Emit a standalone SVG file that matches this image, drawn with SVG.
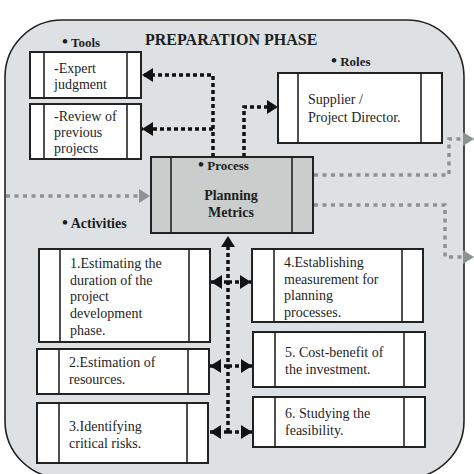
<svg xmlns="http://www.w3.org/2000/svg" width="474" height="474" viewBox="0 0 474 474">
<defs>
<style>
.t{font-family:"Liberation Serif","Times New Roman",serif;font-size:14px;fill:#1e1e1e}
.b{font-family:"Liberation Serif","Times New Roman",serif;font-weight:bold;fill:#1e1e1e}
.bl{font-size:17px}
.box{fill:#ffffff;stroke:#222;stroke-width:2}
.pbox{fill:#c9cdcc;stroke:#222;stroke-width:2}
.div{stroke:#222;stroke-width:1.6}
.blk{fill:none;stroke:#111;stroke-width:3.5;stroke-dasharray:4 3}
.gry{fill:none;stroke:#8b9392;stroke-width:3.5;stroke-dasharray:4 4.5}
</style>
<marker id="ab" markerUnits="userSpaceOnUse" markerWidth="12" markerHeight="14" refX="11" refY="7" orient="auto">
<path d="M0,0 L11,7 L0,14 Z" fill="#111"/>
</marker>
<marker id="ag" markerUnits="userSpaceOnUse" markerWidth="12" markerHeight="14" refX="11" refY="7" orient="auto">
<path d="M0,0 L11,7 L0,14 Z" fill="#8b9392"/>
</marker>
</defs>
<rect x="0" y="0" width="474" height="474" fill="#ffffff"/>
<rect x="5" y="20" width="459" height="458" rx="57" ry="57" fill="#dde1e4" stroke="#222" stroke-width="1.6"/>
<text class="b" x="145" y="45" font-size="16">PREPARATION PHASE</text>

<g id="connectors">
<path class="blk" d="M213,157 L213,75 L142,75" marker-end="url(#ab)"/>
<path class="blk" d="M213,129 L142,129" marker-end="url(#ab)"/>
<path class="blk" d="M244,157 L244,107 L278,107" marker-end="url(#ab)"/>
<path class="blk" d="M228,432 L228,236" marker-end="url(#ab)"/>
<path class="blk" d="M228,282 L211,282" marker-end="url(#ab)"/>
<path class="blk" d="M228,282 L251,282" marker-end="url(#ab)"/>
<path class="blk" d="M228,366 L210,366" marker-end="url(#ab)"/>
<path class="blk" d="M228,366 L252,366" marker-end="url(#ab)"/>
<path class="blk" d="M228,432 L210,432" marker-end="url(#ab)"/>
<path class="blk" d="M228,432 L252,432" marker-end="url(#ab)"/>
<path class="gry" d="M6,196 L150,196" marker-end="url(#ag)"/>
<path class="gry" d="M314,175 L449,175 L449,139 L474,139" marker-end="url(#ag)"/>
<path class="gry" d="M314,205 L445,205 L445,257 L474,257" marker-end="url(#ag)"/>
</g>

<g id="tools">
<text class="b" x="62" y="47" font-size="13"><tspan class="bl">•</tspan> Tools</text>
</g>
<g id="tool1">
<rect class="box" x="30" y="52" width="111" height="46"/>
<line class="div" x1="44" y1="52" x2="44" y2="98"/><line class="div" x1="127" y1="52" x2="127" y2="98"/>
<text class="t" x="54" y="73">-Expert</text>
<text class="t" x="54" y="89">judgment</text>
</g>
<g id="tool2">
<rect class="box" x="30" y="104" width="111" height="55"/>
<line class="div" x1="44" y1="104" x2="44" y2="159"/><line class="div" x1="127" y1="104" x2="127" y2="159"/>
<text class="t" x="54" y="121">-Review of</text>
<text class="t" x="54" y="137">previous</text>
<text class="t" x="54" y="153">projects</text>
</g>

<g id="roles">
<text class="b" x="331" y="66" font-size="13"><tspan class="bl">•</tspan> Roles</text>
<rect class="box" x="278" y="73" width="164" height="70"/>
<line class="div" x1="298" y1="73" x2="298" y2="143"/><line class="div" x1="421" y1="73" x2="421" y2="143"/>
<text class="t" x="308" y="104">Supplier /</text>
<text class="t" x="308" y="122">Project Director.</text>
</g>

<g id="process">
<rect class="pbox" x="151" y="157" width="162" height="76"/>
<line class="div" x1="171" y1="157" x2="171" y2="233"/><line class="div" x1="292" y1="157" x2="292" y2="233"/>
<text class="b" x="198" y="170" font-size="13"><tspan class="bl">•</tspan> Process</text>
<text class="b" x="231" y="200" font-size="14" text-anchor="middle">Planning</text>
<text class="b" x="231" y="217" font-size="14" text-anchor="middle">Metrics</text>
</g>

<g id="activities">
<text class="b" x="62" y="228" font-size="14"><tspan class="bl">•</tspan> Activities</text>
</g>
<g id="act1">
<rect class="box" x="39" y="249" width="171" height="93"/>
<line class="div" x1="60" y1="249" x2="60" y2="342"/><line class="div" x1="189" y1="249" x2="189" y2="342"/>
<text class="t" x="70" y="268">1.Estimating the</text>
<text class="t" x="70" y="285">duration of the</text>
<text class="t" x="70" y="301">project</text>
<text class="t" x="70" y="318">development</text>
<text class="t" x="70" y="335">phase.</text>
</g>
<g id="act2">
<rect class="box" x="37" y="349" width="172" height="45"/>
<line class="div" x1="59" y1="349" x2="59" y2="394"/><line class="div" x1="188" y1="349" x2="188" y2="394"/>
<text class="t" x="69" y="367">2.Estimation of</text>
<text class="t" x="69" y="384">resources.</text>
</g>
<g id="act3">
<rect class="box" x="37" y="403" width="171" height="60"/>
<line class="div" x1="59" y1="403" x2="59" y2="463"/><line class="div" x1="187" y1="403" x2="187" y2="463"/>
<text class="t" x="69" y="431">3.Identifying</text>
<text class="t" x="69" y="448">critical risks.</text>
</g>
<g id="act4">
<rect class="box" x="252" y="249" width="171" height="73"/>
<line class="div" x1="274" y1="249" x2="274" y2="322"/><line class="div" x1="402" y1="249" x2="402" y2="322"/>
<text class="t" x="284" y="267">4.Establishing</text>
<text class="t" x="284" y="284">measurement for</text>
<text class="t" x="284" y="300">planning</text>
<text class="t" x="284" y="317">processes.</text>
</g>
<g id="act5">
<rect class="box" x="253" y="332" width="172" height="55"/>
<line class="div" x1="275" y1="332" x2="275" y2="387"/><line class="div" x1="404" y1="332" x2="404" y2="387"/>
<text class="t" x="285" y="357">5. Cost-benefit of</text>
<text class="t" x="285" y="374">the investment.</text>
</g>
<g id="act6">
<rect class="box" x="253" y="397" width="172" height="50"/>
<line class="div" x1="275" y1="397" x2="275" y2="447"/><line class="div" x1="404" y1="397" x2="404" y2="447"/>
<text class="t" x="285" y="418">6. Studying the</text>
<text class="t" x="285" y="435">feasibility.</text>
</g>
</svg>
